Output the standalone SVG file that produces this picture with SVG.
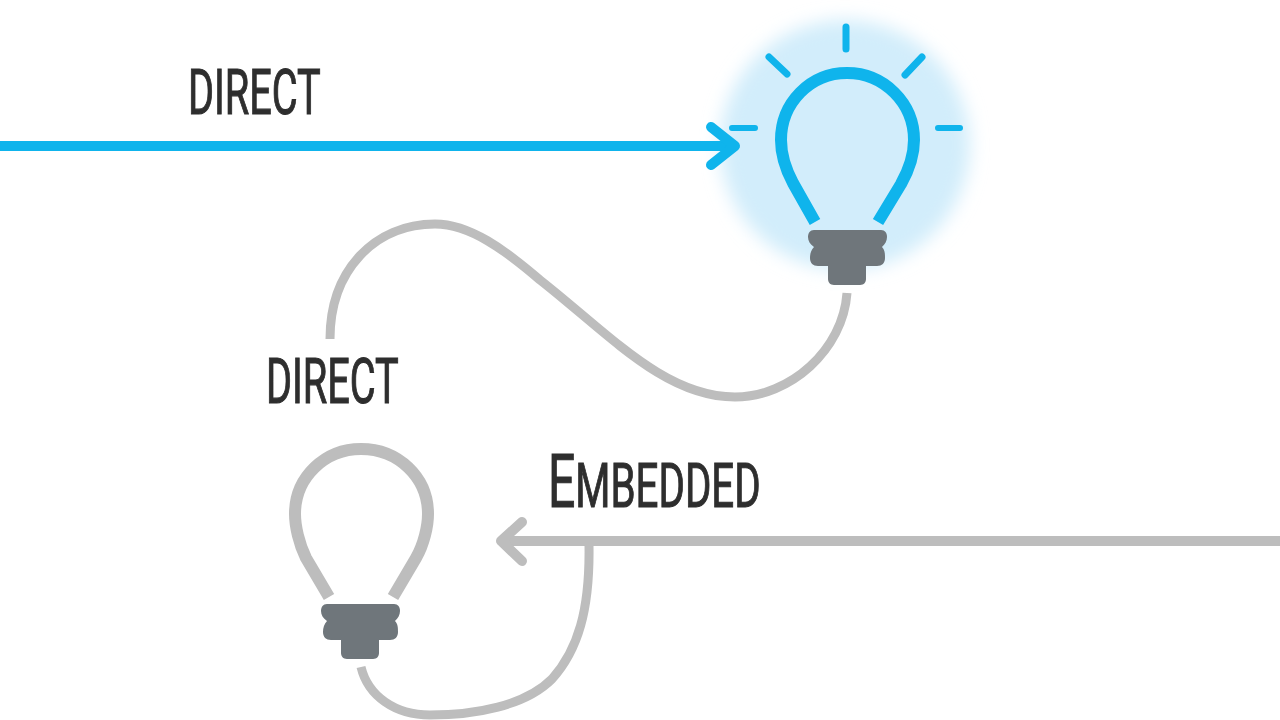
<svg xmlns="http://www.w3.org/2000/svg" width="1280" height="720" viewBox="0 0 1280 720">
<defs>
<filter id="soft" x="-20%" y="-20%" width="140%" height="140%"><feGaussianBlur stdDeviation="9"/></filter>
<path id="base-shape" d="M6 0H73C77 0 79 3 79 7C79 11 77 14 74 17C77 20 77 24 77 28C77 33 74 36 69 36H58V49C58 52 56 55 52 55H26C22 55 20 52 20 49V36H10C5 36 2 33 2 28C2 24 3 20 6 17C2 14 0 11 0 7C0 3 2 0 6 0Z"/>
</defs>
<style>
.lbl{font-family:"Roboto","Liberation Sans",sans-serif;fill:#2e2e2e;stroke:#2e2e2e;stroke-width:1.1;font-weight:400}
.blue{fill:none;stroke:#0fb4ec;stroke-linejoin:round}
.gray{fill:none;stroke:#bdbdbd;stroke-linejoin:round}
.round{stroke-linecap:round}
.base{fill:#6f767b}
</style>
<rect width="1280" height="720" fill="#ffffff"/>
<circle id="glow" cx="845" cy="145" r="125" fill="#d2edfb" filter="url(#soft)"/>
<g id="connectors">
<path class="blue" stroke-width="10" d="M-5 146H733"/>
<path class="blue round" stroke-width="10" d="M711 127L735 146L711 165"/>
<path class="gray" stroke-width="9" d="M847 293C843 350 790 397 735 397C665 397 610 335 540 280C505 250 470 224 435 224C375 224 330 270 330 339"/>
<path class="gray" stroke-width="10" d="M1285 541H505"/>
<path class="gray round" stroke-width="10" d="M522 522L501 541L522 561"/>
<path class="gray" stroke-width="9" d="M589 545C590 610 578 650 552 679C525 706 475 715 430 715C395 715 368 696 361 667"/>
</g>
<g id="bulb-lit">
<path class="blue" stroke-width="12" d="M815 222L793 183C785 168 781 155 781 140C781 103 810 73 847 73C884 73 914 103 914 140C914 155 910 168 901 184L878 222"/>
<path class="blue round" stroke-width="7" d="M846 27V49M769 57L787 74M922 57L905 75"/>
<path class="blue round" stroke-width="6" d="M732 128H755M938 128H960"/>
<use href="#base-shape" class="base" x="808" y="230"/>
</g>
<g id="bulb-unlit">
<path class="gray" stroke-width="12" d="M329 597L306 558C299 544 295 526 295 514C295 477 325 449 361 449C398 449 428 477 428 514C428 526 424 544 416 558L393 597"/>
<use href="#base-shape" class="base" x="321" y="604"/>
</g>
<g id="label-direct-top"><text class="lbl" transform="translate(188 114) scale(.63 1)" font-size="63">DIRECT</text></g>
<g id="label-direct-bottom"><text class="lbl" transform="translate(266 403) scale(.63 1)" font-size="63">DIRECT</text></g>
<g id="label-embedded"><text class="lbl" transform="translate(548 507) scale(.65 1)" font-size="62"><tspan font-size="74">E</tspan>MBEDDED</text></g>
</svg>
